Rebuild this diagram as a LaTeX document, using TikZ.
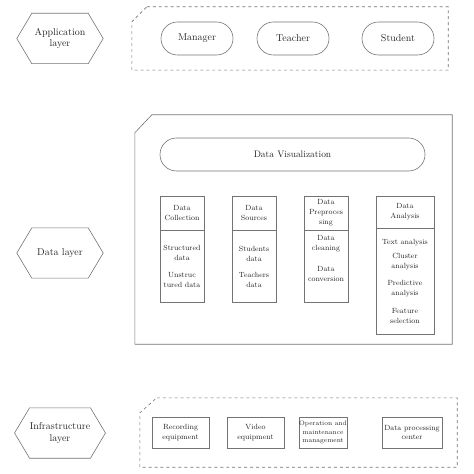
\documentclass[tikz,border=0pt]{standalone}
\usetikzlibrary{shapes.misc,positioning}
\begin{document}
\begin{tikzpicture}[x=1bp,y=-1bp,font=\fontsize{10}{11.5}\selectfont,text=black!85]
\tikzstyle{layer} = [minimum width=56bp, minimum height=50bp, inner sep=0pt, align=center]
\tikzstyle{frame} = [draw=black!55, line width=0.6pt]
\tikzstyle{group} = [rectangle, inner sep=0pt]
\tikzstyle{role} = [rounded rectangle, draw=black!55, line width=0.6pt,
minimum width=72bp, minimum height=33bp, inner sep=0pt]
\tikzstyle{colhead} = [rectangle, draw=black!55, line width=0.6pt, minimum width=44bp,
minimum height=34bp, inner sep=0pt, align=center, font=\fontsize{7.5}{10}\selectfont]
\tikzstyle{colbody} = [rectangle, draw=black!55, line width=0.6pt, minimum width=44bp,
minimum height=72bp, inner sep=0pt, align=center, font=\fontsize{7.5}{10}\selectfont]
\tikzstyle{device} = [rectangle, draw=black!55, line width=0.6pt, minimum height=31bp,
inner sep=0pt, align=center, font=\fontsize{7.5}{9.5}\selectfont]
\useasboundingbox (0,0) rectangle (474,474);
% layer labels
\node [layer] (applab) at (60,38.5) {Application\\layer};
\node [layer] (datalab) at (60,253) {Data layer};
\node [layer] (infralab) at (60,433) {Infrastructure\\layer};
\foreach \n in {applab,datalab,infralab}
  \draw [frame] (\n.north west) -- (\n.north east) -- ([xshift=15bp]\n.east)
    -- (\n.south east) -- (\n.south west) -- ([xshift=-15bp]\n.west) -- cycle;
% group frames with a cut corner
\node [group, minimum width=316bp, minimum height=63bp] (appgroup) at (290,38.5) {};
\node [group, minimum width=317bp, minimum height=229bp] (datagroup) at (293.5,229.5) {};
\node [group, minimum width=317bp, minimum height=69bp] (infragroup) at (298.5,432.5) {};
\foreach \n/\cx/\cy/\st in {appgroup/15/15/dashed, datagroup/17/18/solid, infragroup/17/15/dashed}
  \draw [frame, \st] ([xshift=\cx bp]\n.north west) -- (\n.north east) -- (\n.south east)
    -- (\n.south west) -- ([yshift=-\cy bp]\n.north west) -- cycle;
% application layer
\node [role] (manager) at (197,38.5) {Manager};
\node [role] (teacher) at (293,38.5) {Teacher};
\node [role] (student) at (398,38.5) {Student};
% data layer
\node [role, minimum width=265bp, font=\fontsize{9.5}{11}\selectfont] (visual) at (292.5,154.5) {Data Visualization};
\node [colhead] (collect) at (182,213) {Data\\Collection};
\node [colbody, below=0pt of collect] (collectbody) {Structured\\data\\[7pt]Unstruc\\tured data};
\node [colhead] (sources) at (254,213) {Data\\Sources};
\node [colbody, below=0pt of sources] (sourcesbody) {Students\\data\\[6pt]Teachers\\data};
\node [colhead] (prepro) at (326,213) {Data\\Preproces\\sing};
\node [colbody, below=0pt of prepro] (preprobody) {Data\\cleaning\\[11pt]Data\\conversion\\[6pt]};
\node [colhead, minimum width=58bp, minimum height=32bp] (analysis) at (405,212) {Data\\Analysis};
\node [colbody, minimum width=58bp, minimum height=106bp, below=0pt of analysis] (analysisbody)
  {Text analysis\\[4pt]Cluster\\analysis\\[7pt]Predictive\\analysis\\[8pt]Feature\\selection};
% infrastructure layer
\node [device, minimum width=57bp] (record) at (180.5,432.5) {Recording\\equipment};
\node [device, minimum width=57bp] (video) at (255.5,432.5) {Video\\equipment};
\node [device, minimum width=48bp, font=\fontsize{6.6}{8.3}\selectfont] (operation) at (323,432.5) {Operation and\\maintenance\\management};
\node [device, minimum width=60bp] (center) at (412,432.5) {Data processing\\center};
\end{tikzpicture}
\end{document}
